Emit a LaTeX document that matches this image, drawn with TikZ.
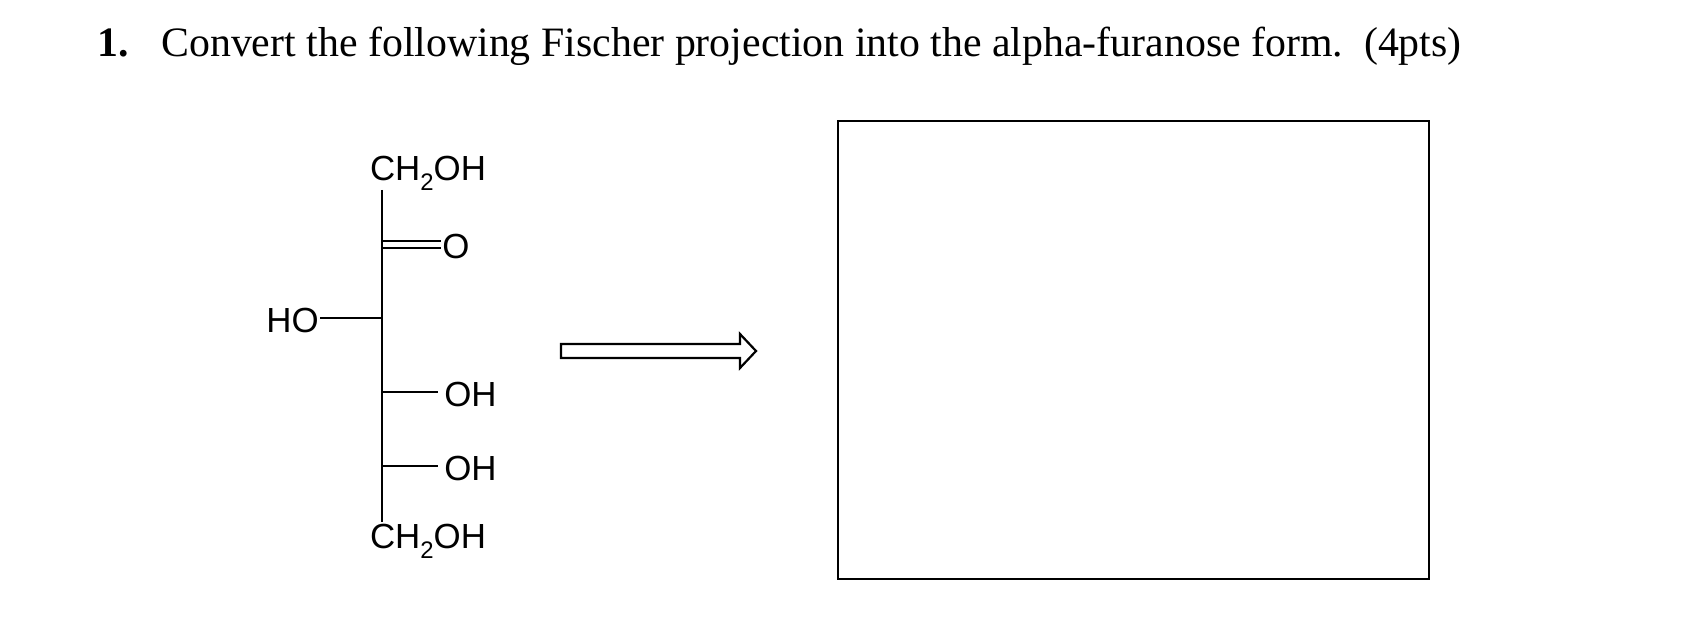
\documentclass[tikz,border=0pt]{standalone}
\usepackage{fontspec}
\setmainfont{Liberation Serif}
\newfontfamily\chem{Liberation Sans}
\newcommand{\subtwo}{\raisebox{-0.28em}{\fontsize{24}{24}\selectfont 2}}
\begin{document}
\begin{tikzpicture}[x=1bp,y=-1bp,line width=2.6bp,
  lab/.style={font=\chem\fontsize{35}{35}\selectfont,inner sep=0pt},
  ttl/.style={font=\fontsize{42}{42}\selectfont,inner sep=0pt,anchor=base west}]
\useasboundingbox (0,0) rectangle (1707,641);
\node[ttl] (num) at (96,57) {\textbf{1.}};
\node[ttl] (title) at (160,57) {Convert the following Fischer projection into the alpha-furanose form.\ \ (4pts)};
% Fischer
\coordinate (top) at (382,190);
\coordinate (bot) at (382,522);
\draw (top) -- (bot);
\node[lab] (c1) at (428,173) {CH\subtwo OH};
\node[lab] (c6) at (428,541) {CH\subtwo OH};
\coordinate (c2a) at (382,241);
\coordinate (c2b) at (382,248);
\node[lab,anchor=west] (o) at (441,246) {O};
\draw (c2a) -- (c2a -| o.west);
\draw (c2b) -- (c2b -| o.west);
\coordinate (c3) at (382,318);
\node[lab,anchor=east] (ho) at (320,320) {HO};
\draw (c3) -- (c3 -| ho.east);
\coordinate (c4) at (382,392);
\node[lab,anchor=west] (oh4) at (443,394) {OH};
\draw (c4) -- ([xshift=-5bp]c4 -| oh4.west);
\coordinate (c5) at (382,466);
\node[lab,anchor=west] (oh5) at (443,468) {OH};
\draw (c5) -- ([xshift=-5bp]c5 -| oh5.west);
% arrow
\draw[line width=2.2bp] (561,344) -- (740,344) -- (740,334) -- (756,351) -- (740,368) -- (740,358) -- (561,358) -- cycle;
% box
\node[draw,line width=2.2bp,minimum width=591bp,minimum height=458bp,inner sep=0pt,anchor=north west] (box) at (837,120) {};
\end{tikzpicture}
\end{document}
